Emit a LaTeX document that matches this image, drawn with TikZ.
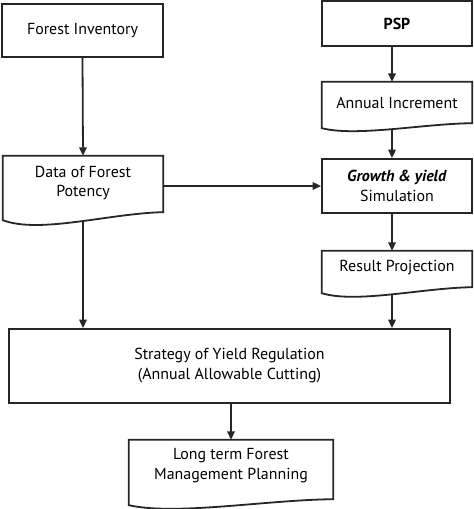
\documentclass[tikz,border=0pt]{standalone}
\usepackage{fontspec}
\setmainfont{PT Sans}
\usetikzlibrary{arrows.meta,calc}
\pgfdeclarelayer{bg}
\pgfdeclarelayer{mid}
\pgfsetlayers{bg,mid,main}
\newcommand\docoutline[3]{%
  \begin{pgfonlayer}{mid}
  \draw[outl] ($(#1.south west)+(0,-#2)$) -- (#1.north west) -- (#1.north east)
    -- ($(#1.south east)+(0,-#3)$)
    .. controls ($(#1.south west)!0.67!(#1.south east)+(0,{-#2+0.875*(#2-#3)})$)
    and ($(#1.south west)!0.23!(#1.south east)+(0,{-#2-1.75*(#2-#3)})$)
    .. ($(#1.south west)+(0,-#2)$) -- cycle;
  \end{pgfonlayer}}
\begin{document}
\begin{tikzpicture}[x=1bp,y=1bp,
  ln/.style={draw=black!85,line width=1.8bp},
  txt/.style={align=center,inner sep=0pt,font=\fontsize{16}{20}\selectfont},
  boxn/.style={txt,ln,fill=white},
  docn/.style={txt},
  outl/.style={ln,fill=white,line join=miter},
  arr/.style={ln,-{Triangle[length=8.5bp,width=7.5bp]}}]
\useasboundingbox (0,0) rectangle (474,509);

\node[boxn,minimum width=161bp,minimum height=53bp] (fi) at (82.5,478.5) {Forest Inventory};
\node[boxn,minimum width=150bp,minimum height=45bp] (psp) at (397,485.5) {\textbf{PSP}};
\node[docn,minimum width=150bp,minimum height=42bp] (ann) at (397,406) {Annual Increment};
\node[boxn,minimum width=150bp,minimum height=54bp] (gy) at (397,323) {\textbf{\textit{Growth \& yield}}\\Simulation};
\node[docn,minimum width=160bp,minimum height=54bp] (data) at (83,326) {Data of Forest\\Potency};
\node[docn,minimum width=150bp,minimum height=34bp] (res) at (397,241) {Result Projection};
\node[boxn,minimum width=441bp,minimum height=74bp] (strat) at (229.5,143) {Strategy of Yield Regulation\\(Annual Allowable Cutting)};
\node[docn,minimum width=204bp,minimum height=52bp] (lt) at (231,43) {Long term Forest\\Management Planning};

\docoutline{ann}{4}{-1}
\docoutline{data}{10}{2}
\docoutline{res}{8}{2}
\docoutline{lt}{13}{7}

\coordinate (colR) at (392,0);
\begin{pgfonlayer}{bg}
\draw[arr] (fi.south) -- (data.north);
\draw[arr] (psp.south -| colR) -- (ann.north -| colR);
\draw[arr] (ann.south -| colR) -- (gy.north -| colR);
\draw[arr] (gy.south -| colR) -- (res.north -| colR);
\draw[arr] (res.south -| colR) -- (strat.north -| colR);
\draw[arr] (data.south) -- (data.south |- strat.north);
\draw[arr] (data.east |- gy.west) -- (gy.west);
\draw[arr] (strat.south -| lt.north) -- (lt.north);
\end{pgfonlayer}
\end{tikzpicture}
\end{document}
